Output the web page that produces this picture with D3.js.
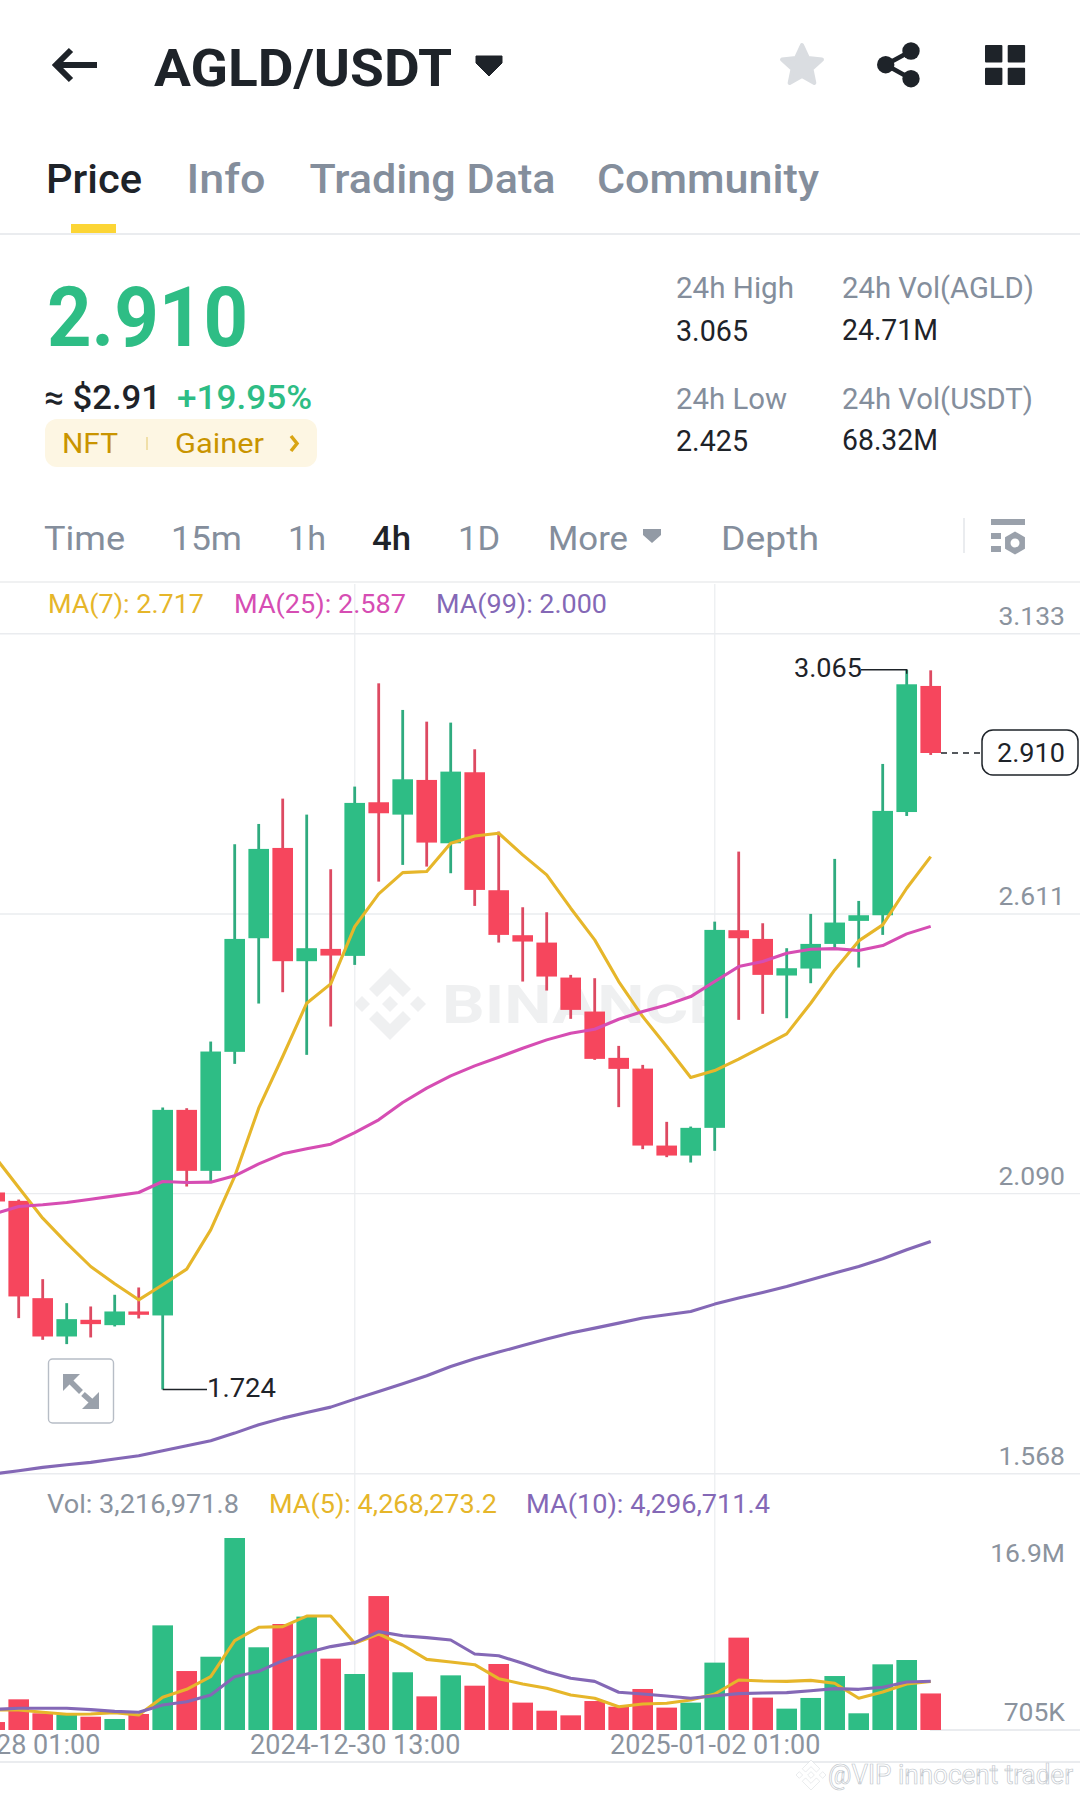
<!DOCTYPE html>
<html>
<head>
<meta charset="utf-8">
<title>AGLD/USDT</title>
<script src="https://cdn.jsdelivr.net/npm/d3@7/dist/d3.min.js"></script>
<style>
html,body{margin:0;padding:0;background:#fff;overflow:hidden}
svg{display:block}
text{font-family:Roboto,"Noto Sans",sans-serif}
</style>
</head>
<body>
<svg id="c" width="1080" height="1798" viewBox="0 0 1080 1798"></svg>
<script>
// ---- data (index 0 is the partly hidden candle at the left edge) ----
const opens  = [2.0912,2.0756,1.8943,1.8229,1.8540,1.8440,1.8695,1.8621,2.2451,2.1315,2.3532,2.5649,2.7331,2.5221,2.5450,2.5320,2.8182,2.7952,2.8598,2.7418,2.8741,2.6543,2.5705,2.5568,2.4916,2.4283,2.3420,2.3220,2.1786,2.1600,2.2116,2.5798,2.5636,2.4954,2.5084,2.5543,2.5972,2.6077,2.8000,3.0349];
const highs  = [2.0950,2.0780,1.9297,1.8850,1.8788,1.9006,1.9142,2.2495,2.2482,2.3724,2.7400,2.7778,2.8250,2.7952,2.6934,2.8474,3.0398,2.9902,2.9684,2.9666,2.9169,2.7636,2.6226,2.6133,2.4966,2.4904,2.3643,2.3289,2.2228,2.2140,2.5958,2.7263,2.5928,2.5463,2.6102,2.7127,2.6344,2.8896,3.0650,3.0640];
const lows   = [2.0700,1.8571,1.8167,1.8087,1.8211,1.8416,1.8565,1.7240,2.1023,2.1116,2.3308,2.4432,2.4643,2.3476,2.4004,2.5152,2.6704,2.7015,2.6984,2.6860,2.6251,2.5568,2.4842,2.4674,2.4147,2.3383,2.2502,2.1719,2.1570,2.1470,2.1688,2.4128,2.4240,2.4159,2.4811,2.5432,2.5103,2.5711,2.7927,2.9064];
const closes = [2.0744,1.8975,1.8229,1.8552,1.8459,1.8695,1.8633,2.2451,2.1315,2.3538,2.5636,2.7313,2.5221,2.5463,2.5326,2.8170,2.7977,2.8610,2.7431,2.8753,2.6549,2.5711,2.5587,2.4935,2.4314,2.3401,2.3215,2.1786,2.1600,2.2116,2.5804,2.5649,2.4966,2.5090,2.5543,2.5941,2.6077,2.8021,3.0380,2.9100];
const ma7    = [2.1582,2.1005,2.0433,1.9968,1.9533,1.9210,1.8912,1.9192,1.9484,2.0216,2.1210,2.2482,2.3445,2.4438,2.4798,2.5866,2.6475,2.6872,2.6891,2.7418,2.7555,2.7605,2.7201,2.6829,2.6208,2.5618,2.4842,2.4189,2.3631,2.3054,2.3183,2.3395,2.3631,2.3867,2.4438,2.5059,2.5599,2.5897,2.6580,2.7170];
const ma25   = [2.0514,2.0651,2.0682,2.0725,2.0787,2.0849,2.0912,2.1116,2.1098,2.1104,2.1222,2.1445,2.1632,2.1725,2.1812,2.2029,2.2265,2.2588,2.2855,2.3084,2.3271,2.3432,2.3600,2.3755,2.3880,2.3954,2.4140,2.4283,2.4407,2.4562,2.4842,2.5121,2.5214,2.5369,2.5444,2.5456,2.5419,2.5512,2.5730,2.5870];
const ma99   = [1.5672,1.5727,1.5790,1.5839,1.5883,1.5945,1.6007,1.6100,1.6193,1.6286,1.6429,1.6584,1.6708,1.6814,1.6913,1.7062,1.7205,1.7348,1.7497,1.7670,1.7813,1.7938,1.8061,1.8180,1.8293,1.8385,1.8478,1.8572,1.8634,1.8695,1.8832,1.8944,1.9049,1.9160,1.9285,1.9410,1.9533,1.9676,1.9844,2.0000];
const volumes = [0.70,2.70,1.47,1.32,1.17,0.97,1.41,9.21,5.19,6.45,16.90,7.28,9.33,9.98,6.28,4.93,11.79,5.08,2.96,4.81,3.90,5.81,2.41,1.70,1.29,2.55,2.05,3.61,1.97,2.41,5.93,8.13,2.85,1.88,2.82,4.75,1.47,5.78,6.16,3.217];
const volMa5  = [1.76,1.76,1.56,1.38,1.41,1.53,1.32,2.88,3.58,4.69,7.86,9.04,9.10,10.03,10.03,7.63,8.45,7.48,6.22,5.99,5.75,4.52,4.05,3.67,3.08,2.79,2.05,2.29,2.35,2.64,3.17,4.40,4.31,4.28,4.37,4.11,2.79,3.34,4.05,4.268];
const volMa10 = [1.82,1.91,1.91,1.91,1.79,1.64,1.56,2.20,2.49,3.08,4.69,5.16,6.10,6.81,7.34,7.69,8.66,8.30,8.13,7.92,6.69,6.54,5.87,5.13,4.55,4.28,3.32,3.17,2.99,2.79,3.02,3.20,3.26,3.29,3.46,3.64,3.58,3.76,4.22,4.297];
const priceTicks = [3.133,2.611,2.090,1.568];
const volTickLabels = ["16.9M","705K"];
const timeTickIndex = [0,15,30];
const timeTickLabels = ["2024-12-28 01:00","2024-12-30 13:00","2025-01-02 01:00"];
const tabs = ["Price","Info","Trading Data","Community"];
const intervals = ["Time","15m","1h","4h","1D","More","Depth"];
const lastPrice = 2.910, highMark = 3.065, lowMark = 1.724;

// ---- palette ----
const GREEN="#2ebd85", RED="#f6465d", GREEN_W="#2fab7f", RED_W="#dd4a62";
const YEL="#e6b62a", PINK="#d64db3", PUR="#8468b6", DARK="#1e2329", GREY="#848e9c", AX="#8b939e", GRID="#eaecef";

const svg=d3.select("#c");
function T(x,y,s,o={}){
  const t=svg.append("text").attr("x",o.w?x-1:x).attr("y",y).text(s)
    .attr("font-size",o.size||26).attr("fill",o.fill||DARK).attr("font-weight",o.weight||400);
  if(o.anchor)t.attr("text-anchor",o.anchor);
  if(o.w)t.attr("textLength",o.w+2).attr("lengthAdjust","spacingAndGlyphs");
  return t;
}
function hline(x1,x2,y,c,w){svg.append("line").attr("x1",x1).attr("x2",x2).attr("y1",y).attr("y2",y).attr("stroke",c).attr("stroke-width",w);}

// ---- header ----
svg.append("path").attr("d","M97,65 H57 M71,50 L56,65 L71,80").attr("fill","none").attr("stroke",DARK).attr("stroke-width",6).attr("stroke-linejoin","miter");
T(155,85.5,"AGLD/USDT",{size:52,weight:700,w:296});
svg.append("path").attr("d","M476,56 H502 V63 L489,76 L476,63 Z").attr("fill",DARK).attr("stroke",DARK).attr("stroke-width",1).attr("stroke-linejoin","round");
// star
const starPts=d3.range(10).map(i=>{const r=i%2?10:21,a=-Math.PI/2+i*Math.PI/5;return [802+r*Math.cos(a),66+r*Math.sin(a)];});
svg.append("path").attr("d",d3.line()(starPts)+"Z").attr("fill","#dadde1").attr("stroke","#dadde1").attr("stroke-width",4).attr("stroke-linejoin","round");
// share
svg.append("path").attr("d","M911,51 L885.7,64.7 L911,78.7").attr("fill","none").attr("stroke",DARK).attr("stroke-width",4.5);
[[911,51],[885.7,64.7],[911,78.7]].forEach(p=>svg.append("circle").attr("cx",p[0]).attr("cy",p[1]).attr("r",8.7).attr("fill",DARK));
// grid icon
[[985,45],[1007.7,45],[985,67.7],[1007.7,67.7]].forEach(p=>svg.append("rect").attr("x",p[0]).attr("y",p[1]).attr("width",17.4).attr("height",17.4).attr("rx",1).attr("fill",DARK));

// tabs
const tabX=[[47,94],[187.5,77],[310.5,244],[598,220]];
tabs.forEach((s,i)=>T(tabX[i][0],193,s,{size:40,weight:500,fill:i?"#848e9c":DARK,w:tabX[i][1]}));
svg.append("rect").attr("x",71).attr("y",224).attr("width",45).attr("height",9).attr("fill","#fcd535");
hline(0,1080,234,GRID,2);

// price block
T(48,346,"2.910",{size:84,weight:700,fill:GREEN,w:199});
T(45,409,"≈ $2.91",{size:34,weight:500,w:115});
T(178,409,"+19.95%",{size:34,weight:500,fill:GREEN,w:133});
svg.append("rect").attr("x",45).attr("y",419).attr("width",272).attr("height",48).attr("rx",12).attr("fill","#fdf6e3");
T(63,453,"NFT",{size:28,fill:"#c99400",w:54});
svg.append("line").attr("x1",147).attr("x2",147).attr("y1",437).attr("y2",450).attr("stroke","#f0dfa8").attr("stroke-width",2);
T(176,453,"Gainer",{size:28,fill:"#c99400",w:87});
svg.append("path").attr("d","M291,436 L297,443.5 L291,451").attr("fill","none").attr("stroke","#d9a514").attr("stroke-width",3.5);
// 24h stats
T(677,298,"24h High",{size:29,fill:GREY,w:116});
T(677,341,"3.065",{size:29,w:70});
T(843,298,"24h Vol(AGLD)",{size:29,fill:GREY,w:190});
T(843,340,"24.71M",{size:29,w:94});
T(677,409,"24h Low",{size:29,fill:GREY,w:109});
T(677,451,"2.425",{size:29,w:70});
T(843,409,"24h Vol(USDT)",{size:29,fill:GREY,w:189});
T(843,450,"68.32M",{size:29,w:94});

// interval row
const intX=[[45,79],[172,69],[289,36],[373,37],[459,40],[549,78],[722,96]];
intervals.forEach((s,i)=>T(intX[i][0],550,s,{size:33,weight:i===3?500:400,fill:i===3?DARK:GREY,w:intX[i][1]}));
svg.append("path").attr("d","M643,529 H661 V535 L652,543 L643,535 Z").attr("fill","#929aa5");
svg.append("line").attr("x1",964).attr("x2",964).attr("y1",518).attr("y2",553).attr("stroke",GRID).attr("stroke-width",2);
svg.append("rect").attr("x",991).attr("y",519).attr("width",34).attr("height",6).attr("fill","#9aa1ab");
svg.append("rect").attr("x",991).attr("y",533).attr("width",10).attr("height",6).attr("fill","#9aa1ab");
svg.append("rect").attr("x",991).attr("y",546).attr("width",10).attr("height",6).attr("fill","#9aa1ab");
const hexPts=d3.range(6).map(i=>{const a=-Math.PI/2+i*Math.PI/3;return [1015+11.5*Math.cos(a),543+11.5*Math.sin(a)];});
svg.append("path").attr("d",d3.line()(hexPts)+"Z").attr("fill","#9aa1ab");
svg.append("circle").attr("cx",1015).attr("cy",543).attr("r",4.5).attr("fill","#fff");
hline(0,1080,582,"#f0f1f2",2);

// ---- scales ----
const idx=d3.range(opens.length);
const x=d3.scaleLinear().domain([0,39]).range([-5.3,930.7]);
const y=d3.scaleLinear().domain([1.568,3.133]).range([1473.3,633.3]);
const yv=d3.scaleLinear().domain([0,16.9]).range([1730,1538]);
const BODY=20.6, WICK=2.8;

// vertical gridlines
const gx=svg.append("g");
gx.selectAll("line").data(timeTickIndex.slice(1)).join("line")
  .attr("x1",d=>x(d)).attr("x2",d=>x(d)).attr("y1",584).attr("y2",1730)
  .attr("stroke","#eef0f2").attr("stroke-width",1.5);

// price axis with gridlines
const ga=svg.append("g").attr("transform","translate(1080,0)")
  .call(d3.axisLeft(y).tickValues(priceTicks).tickFormat(d3.format(".3f")).tickSize(1080));
ga.select(".domain").remove();
ga.selectAll(".tick line").attr("stroke",GRID).attr("stroke-width",1.4);
ga.selectAll(".tick text").attr("x",-15).attr("dy","-9").attr("text-anchor","end")
  .attr("fill",AX).attr("font-size",26.5).attr("font-family","Roboto");

// BINANCE watermark
const logo=(g,r)=>{
  const s=r/36;
  const ds=[
    "M0,-36 L21,-15 L13,-7 L0,-20 L-13,-7 L-21,-15 Z",
    "M0,36 L21,15 L13,7 L0,20 L-13,7 L-21,15 Z",
    "M0,-8 L8,0 L0,8 L-8,0 Z","M-28,-8 L-20,0 L-28,8 L-36,0 Z","M28,-8 L36,0 L28,8 L20,0 Z"];
  ds.forEach(d=>g.append("path").attr("d",d).attr("transform",`scale(${s})`));
};
const wm=svg.append("g").attr("transform","translate(390,1004)").attr("fill","#eff0f1");
logo(wm,36);
T(443,1023,"BINANCE",{size:54,weight:700,fill:"#eff0f1",w:282});

// volume baseline
hline(930,1080,1730,GRID,2);
hline(0,1080,1762,GRID,2);

// volume bars
svg.append("g").selectAll("rect").data(idx).join("rect")
  .attr("x",i=>x(i)-BODY/2).attr("width",BODY)
  .attr("y",i=>yv(volumes[i])).attr("height",i=>yv(0)-yv(volumes[i]))
  .attr("fill",i=>closes[i]>=opens[i]?GREEN:RED);

// candles
const cg=svg.append("g");
cg.selectAll("line").data(idx).join("line")
  .attr("x1",i=>x(i)).attr("x2",i=>x(i)).attr("y1",i=>y(highs[i])).attr("y2",i=>y(lows[i]))
  .attr("stroke",i=>closes[i]>=opens[i]?GREEN_W:RED_W).attr("stroke-width",WICK);
cg.selectAll("rect").data(idx).join("rect")
  .attr("x",i=>x(i)-BODY/2).attr("width",BODY)
  .attr("y",i=>y(Math.max(opens[i],closes[i])))
  .attr("height",i=>Math.max(2,Math.abs(y(opens[i])-y(closes[i]))))
  .attr("fill",i=>closes[i]>=opens[i]?GREEN:RED);

// MA lines
const lineOf=(arr,sc)=>d3.line().x((d,i)=>x(i)).y(d=>sc(d))(arr);
[[ma7,YEL],[ma25,PINK],[ma99,PUR]].forEach(([a,c])=>
  svg.append("path").attr("d",lineOf(a,y)).attr("fill","none").attr("stroke",c).attr("stroke-width",3.1).attr("stroke-linejoin","round"));
[[volMa5,YEL],[volMa10,PUR]].forEach(([a,c])=>
  svg.append("path").attr("d",lineOf(a,yv)).attr("fill","none").attr("stroke",c).attr("stroke-width",3.1).attr("stroke-linejoin","round"));

// high / low / last markers
const iHigh=highs.indexOf(highMark), iLow=lows.indexOf(lowMark), iLast=opens.length-1;
svg.append("path").attr("d",`M861,${y(highMark)} H${x(iHigh)} V${y(highMark)+4}`).attr("fill","none").attr("stroke",DARK).attr("stroke-width",1.4);
T(795,677,d3.format(".3f")(highMark),{size:26,w:66});
svg.append("path").attr("d",`M${x(iLow)},${y(lowMark)} H207`).attr("fill","none").attr("stroke",DARK).attr("stroke-width",1.4);
T(208,1397,d3.format(".3f")(lowMark),{size:26,w:67});
svg.append("line").attr("x1",x(iLast)+BODY/2).attr("x2",982).attr("y1",y(lastPrice)).attr("y2",y(lastPrice))
  .attr("stroke",DARK).attr("stroke-width",1.3).attr("stroke-dasharray","6 5");
svg.append("rect").attr("x",982).attr("y",730).attr("width",96).attr("height",45).attr("rx",11).attr("fill","#fff").attr("stroke",DARK).attr("stroke-width",1.5);
T(998,762,d3.format(".3f")(lastPrice),{size:26,w:66});

// expand button
svg.append("rect").attr("x",48.5).attr("y",1359).attr("width",65).attr("height",64).attr("rx",4).attr("fill","#fff").attr("stroke","#b7bdc6").attr("stroke-width",1.4);
svg.append("path").attr("d","M63,1374 H80 L63,1391 Z M99,1409 H82 L99,1392 Z").attr("fill","#9aa1ab");
svg.append("path").attr("d","M70,1381 L81,1392 M92,1402 L83,1394").attr("stroke","#9aa1ab").attr("stroke-width",5.5);

// legends
T(49,613,"MA(7): 2.717",{size:26,fill:YEL,w:154});
T(235,613,"MA(25): 2.587",{size:26,fill:PINK,w:170});
T(437,613,"MA(99): 2.000",{size:26,fill:PUR,w:169});
T(48,1513,"Vol: 3,216,971.8",{size:26,fill:AX,w:190});
T(270,1513,"MA(5): 4,268,273.2",{size:26,fill:YEL,w:226});
T(527,1513,"MA(10): 4,296,711.4",{size:26,fill:PUR,w:242});

// volume axis labels
T(1065,1562,volTickLabels[0],{size:26.5,fill:AX,anchor:"end"});
T(1065,1721,volTickLabels[1],{size:26.5,fill:AX,anchor:"end"});

// time axis
const gt=svg.append("g").attr("transform","translate(0,1730)")
  .call(d3.axisBottom(x).tickValues(timeTickIndex).tickFormat((d,i)=>timeTickLabels[i]).tickSize(0));
gt.select(".domain").remove();
gt.selectAll(".tick text").attr("y",0).attr("dy","23.5").attr("fill",AX).attr("font-size",27).attr("font-family","Roboto");

// photographer's credit overlay
const cr=svg.append("g").attr("transform","translate(811,1775)").attr("fill","#fff").attr("stroke","#c6cbd1").attr("stroke-width",0.9);
logo(cr,15);
T(829,1784,"@VIP innocent trader",{size:27,fill:"#fff",w:243}).attr("stroke","#c2c7cd").attr("stroke-width",0.7);
</script>
</body>
</html>
